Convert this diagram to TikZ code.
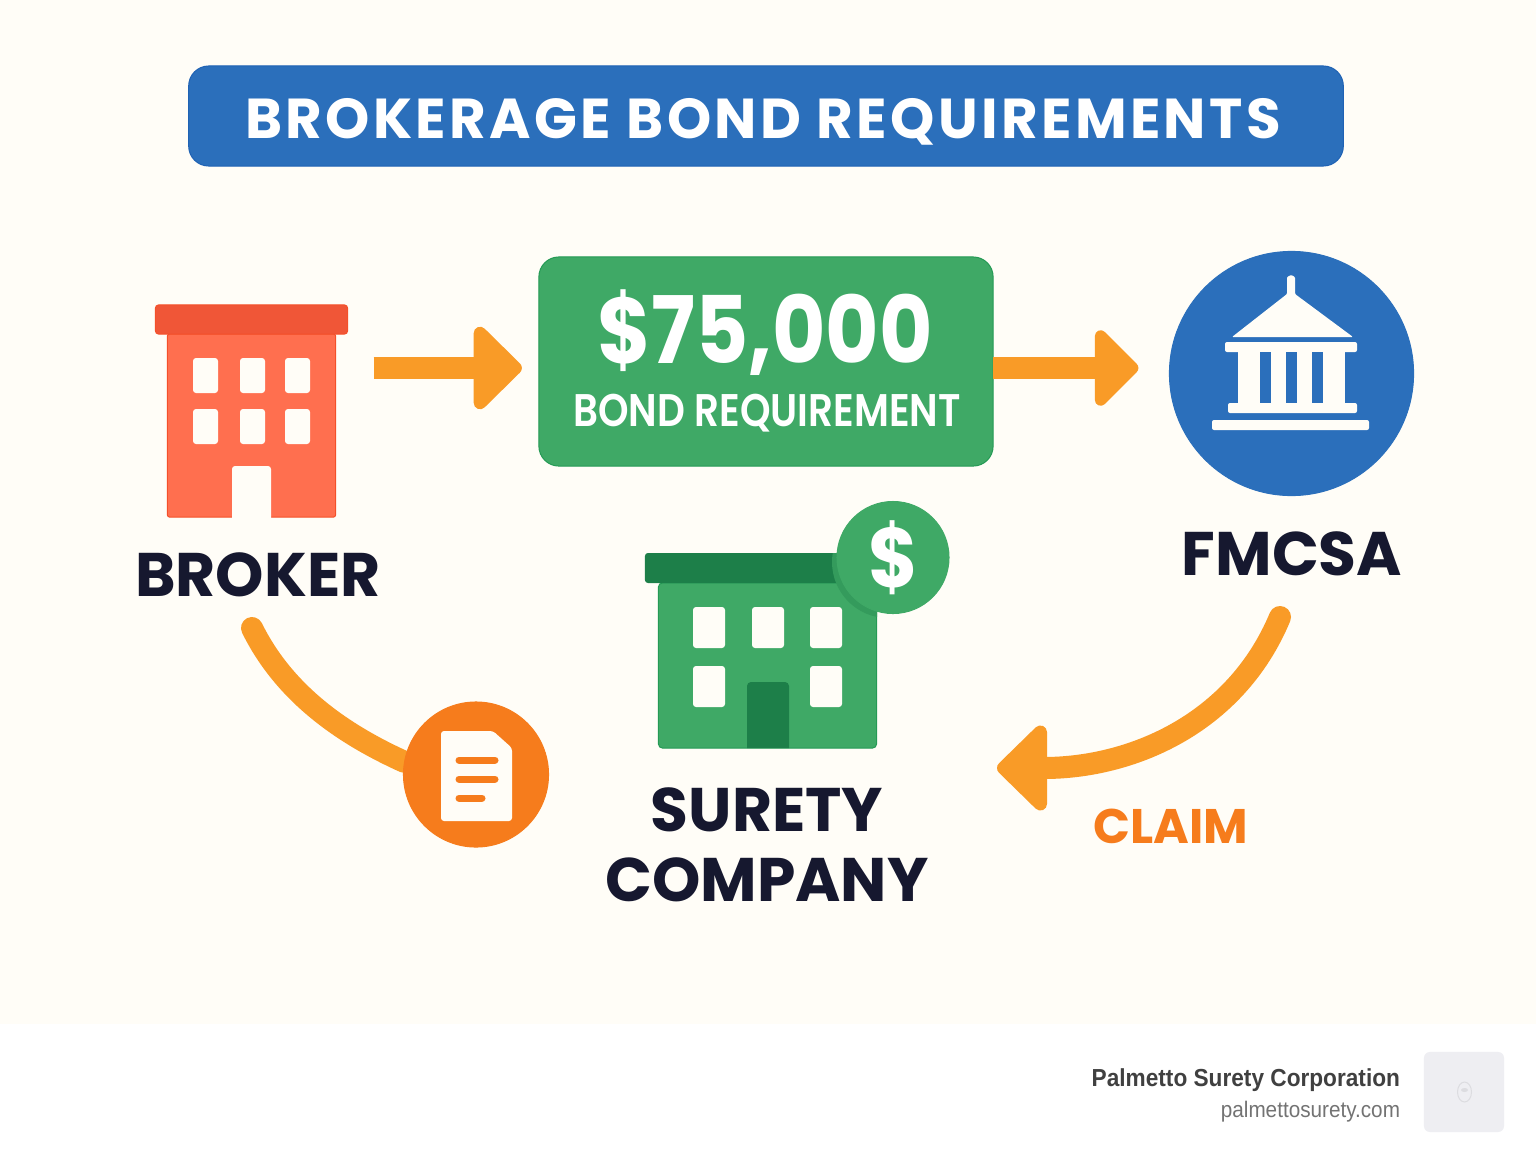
\documentclass[tikz,border=0pt]{standalone}
\usepackage{fontspec}
\usepackage{graphicx}
\usepackage{xcolor}
\usepackage{tikz}
\usetikzlibrary{arrows.meta}
\usetikzlibrary{backgrounds}
\usetikzlibrary{positioning}
\setmainfont{Poppins}
\newfontfamily\semifont{Poppins SemiBold}
\newfontfamily\footfont{Liberation Sans}
\definecolor{paper}{HTML}{FFFDF7}
\definecolor{blueface}{HTML}{2B6FBB}
\definecolor{blueedge}{HTML}{1F62B4}
\definecolor{greenface}{HTML}{3FA966}
\definecolor{greenedge}{HTML}{259A55}
\definecolor{greendark}{HTML}{1D7F49}
\definecolor{coinshade}{HTML}{349B5C}
\definecolor{redface}{HTML}{FF6F4F}
\definecolor{rededge}{HTML}{F4502A}
\definecolor{redroof}{HTML}{F05637}
\definecolor{flowface}{HTML}{F99B27}
\definecolor{docface}{HTML}{F67C1C}
\definecolor{inkdark}{HTML}{16182F}
\definecolor{logobox}{HTML}{EEEEF2}
\definecolor{logoicon}{HTML}{DCDCE0}

\begin{document}
\begin{tikzpicture}[x=0.01cm, y=-0.01cm, inner sep=0pt, outer sep=0pt,
		block/.style={
				rectangle,
				draw=greenedge,
				fill=greenface,
				line width=0.01cm,
				minimum width=4.54cm,
				minimum height=2.09cm,
				rounded corners=0.2cm
			},
		disc/.style={circle, draw=#1, fill=#1, line width=0.01cm},
		label/.style={text=inkdark, font=\fontsize{17.5}{20}\selectfont\bfseries, align=center},
		pane/.style={fill=paper, rounded corners=0.03cm},
		flow/.style={draw=flowface, line width=0.22cm},
		curve/.style={draw=flowface, line width=0.22cm, line cap=round}
	]
	\useasboundingbox (0,0) rectangle (1536,1154);
	\begin{scope}[on background layer]
		\fill [white] (0,0) rectangle (1536,1154);
		\fill [paper] (0,0) rectangle (1536,1024);
	\end{scope}
	% Place nodes
	\node [block, fill=blueface, draw=blueedge, minimum width=11.54cm, minimum height=1cm] (title) at (766,116) {};
	\node (titletext) at (763,122)
		{\textcolor{white}{\fontsize{16}{18}\selectfont\bfseries\addfontfeature{LetterSpace=6}BROKERAGE BOND REQUIREMENTS}};
	\node [block] (bond) at (766,361.5) {};
	\node (amount) at (765,333) {\textcolor{white}{\scalebox{0.88}[1]{\fontsize{26.5}{28}\selectfont\bfseries \$75,000}}};
	\node (amountnote) at (767,413) {\textcolor{white}{\scalebox{0.85}[1]{\fontsize{13}{15}\selectfont\semifont BOND REQUIREMENT}}};
	\node [disc=blueface, minimum size=2.44cm] (fmcsa) at (1291.5,373.5) {};
	\node [disc=docface, minimum size=1.45cm] (docicon) at (476,774.5) {};
	\node [rectangle, fill=redface, draw=rededge, line width=0.01cm, minimum width=1.68cm, minimum height=1.83cm, rounded corners=0.02cm] (broker) at (251.5,425.5) {};
	\node [rectangle, fill=redroof, draw=rededge, line width=0.01cm, minimum width=1.92cm, minimum height=0.29cm, rounded corners=0.03cm] (brokerroof) at (251.5,319.5) {};
	\node [rectangle, fill=greenface, draw=greenedge, line width=0.01cm, minimum width=2.18cm, minimum height=1.65cm, rounded corners=0.04cm] (surety) at (767.5,665.5) {};
	\node [rectangle, fill=greendark, minimum width=2.2cm, minimum height=0.3cm, rounded corners=0.03cm] (suretyroof) at (755,568) {};
	\begin{scope}
		\clip (645,553) rectangle (877,748);
		\fill [coinshade] (888,562) circle (56);
	\end{scope}
	\node [disc=greenface, minimum size=1.12cm] (coin) at (893,557.5) {\textcolor{white}{\scalebox{0.9}[1]{\fontsize{24}{26}\selectfont\bfseries \$}}};
	\node [label] (brokerlabel) at (258,575) {BROKER};
	\node [label] (fmcsalabel) at (1292,554) {FMCSA};
	\node [label] (suretylabel) at (767,845) {SURETY\\[0pt]COMPANY};
	\node (claimlabel) at (1171,826) {\textcolor{docface}{\fontsize{13.8}{16}\selectfont\bfseries CLAIM}};
	\node [anchor=east] (company) at (1400,1080) {\footfont\textcolor{black!75}{\scalebox{0.92}[1]{\fontsize{7}{8}\selectfont\bfseries Palmetto Surety Corporation}}};
	\node [anchor=east] (website) at (1400,1112) {\footfont\textcolor{black!55}{\scalebox{0.92}[1]{\fontsize{6.4}{8}\selectfont palmettosurety.com}}};
	\node [rectangle, fill=logobox, minimum size=0.8cm, rounded corners=0.06cm] (logo) at (1464,1092) {};
	\coordinate (flowline) at (0,368);
	\coordinate (brokerfoot) at (252,628);
	\coordinate (fmcsafoot) at (1280,617);
	\coordinate (claimtip) at (997,768);
	% Broker icon details
	\foreach \x in {193,240,285}
		\foreach \y in {358,409}
			\fill [pane] (\x,\y) rectangle +(25,35);
	\fill [paper, rounded corners=0.03cm] (232,519) -- (232,466) -- (271,466) -- (271,519);
	% Surety icon details
	\foreach \x/\y in {693/607, 752/607, 810/607, 693/666, 810/666}
		\fill [pane] (\x,\y) rectangle +(32,41);
	\fill [greendark, rounded corners=0.04cm] (747,748) -- (747,682) -- (789,682) -- (789,748);
	% Building in the blue disc
	\fill [paper, rounded corners=0.01cm] (1232,337) -- (1287,294) -- (1287,277) -- (1291,275) -- (1295,277) -- (1295,294) -- (1353,337) -- cycle;
	\fill [paper, rounded corners=0.02cm] (1225,342) rectangle (1357,352);
	\fill [paper] (1238,350) rectangle (1345,405);
	\fill [paper, rounded corners=0.02cm] (1228,403) rectangle (1357,413);
	\fill [paper, rounded corners=0.02cm] (1212,420) rectangle (1369,430);
	\foreach \x in {1260,1286,1312}
		\fill [blueface] (\x,352) rectangle +(11,51);
	% Sheet in the orange disc
	\fill [paper, rounded corners=0.03cm] (441,731) -- (493,731) -- (512,748) -- (512,821) -- (441,821) -- cycle;
	\foreach \y/\w in {760/42, 779/42, 798/29}
		\draw [docface, line width=0.07cm, line cap=round] (459,\y) -- +(\w-6,0);
	% Small mark in the logo box
	\draw [logoicon, line width=0.01cm] (1464.5,1092) ellipse (7 and 10);
	\fill [logoicon] (1464.5,1090) ellipse (3.5 and 2);
	% Draw edges
	\path [flow, -{Triangle[length=0.51cm, width=0.97cm, line width=0.14cm, round]}, shorten <=0.38cm, shorten >=0.17cm] (broker.east |- flowline) -- (bond.west |- flowline);
	\path [flow, -{Triangle[length=0.46cm, width=0.89cm, line width=0.14cm, round]}, shorten >=0.31cm] (bond.east |- flowline) -- (fmcsa.west |- flowline);
	\path [curve, -{Triangle[length=0.53cm, width=1cm, line width=0.14cm, round]}] (fmcsafoot) .. controls (1235,725) and (1130,768) .. (claimtip);
	\begin{scope}[on background layer]
		\path [curve] (brokerfoot) .. controls (285,695) and (345,735) .. (docicon.170);
	\end{scope}
\end{tikzpicture}
\end{document}
